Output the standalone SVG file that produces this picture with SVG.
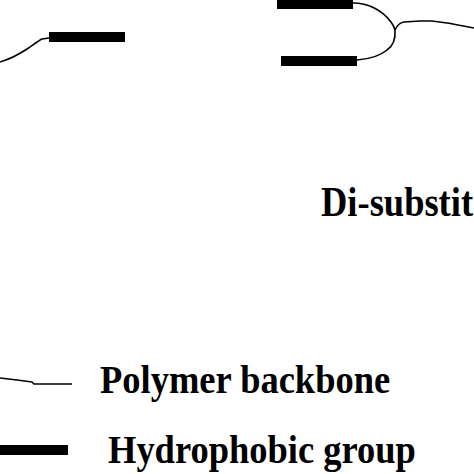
<svg xmlns="http://www.w3.org/2000/svg" width="474" height="474" viewBox="0 0 474 474">
<style>
.bb{fill:none;stroke:#000;stroke-width:1.6;stroke-linejoin:round}
.hp{fill:#000}
.t{font-family:"Liberation Serif","Times New Roman",serif;font-weight:bold;font-size:36.5px;fill:#000}
</style>
<rect width="474" height="474" fill="#fff"/>
<g id="connectors">
<path class="bb" d="M0,62 C10,59 18,55 27,49 C33,45 38,41 42,39 L49,38"/>
<path class="bb" d="M353,3 C368,3 382,10 391,22 Q394,26 395,30 Q396,44 387,50 C380,56 370,59 357,60"/>
<path class="bb" d="M395,30 Q398,23 404,22 L420,21 L432,21 C440,22 450,23 458,25 L474,28"/>
<path class="bb" d="M0,378 L17,380 L32,382 L34,384 L72,384"/>
</g>
<g id="hydrophobic-1"><rect class="hp" x="49" y="32" width="76" height="10"/></g>
<g id="hydrophobic-2"><rect class="hp" x="277" y="-1" width="76" height="10"/></g>
<g id="hydrophobic-3"><rect class="hp" x="281" y="56" width="76" height="10"/></g>
<g id="label-di"><text class="t" transform="translate(321,216) scale(1,1.18)">Di-substit</text></g>
<g id="legend-backbone"><text class="t" transform="translate(100,393) scale(1,1.08)">Polymer backbone</text></g>
<g id="legend-hydrophobic"><rect class="hp" x="0" y="445" width="68" height="10"/><text class="t" transform="translate(108,463) scale(1,1.08)">Hydrophobic group</text></g>
</svg>
